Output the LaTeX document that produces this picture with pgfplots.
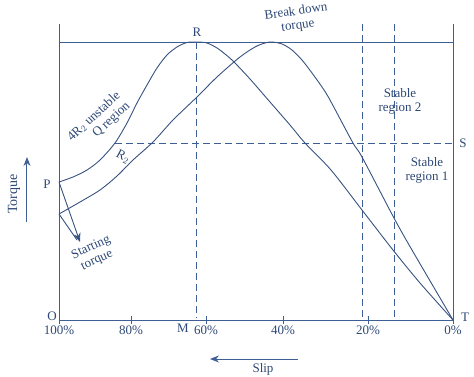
\documentclass[border=0pt]{standalone}
\usepackage{pgfplots}
\pgfplotsset{compat=1.18}
\usepackage{fontspec}
\setmainfont{Liberation Serif}
\usetikzlibrary{arrows.meta}
\definecolor{ln}{RGB}{55,82,128}
\definecolor{ax}{RGB}{62,95,150}
\definecolor{tx}{RGB}{45,72,118}
\begin{document}
\begin{tikzpicture}
\begin{axis}[
  scale only axis, width=394pt, height=296pt,
  xmin=59, xmax=453, ymin=0, ymax=296,
  axis x line*=bottom, axis y line*=left,
  axis line style={ax, line width=0.9pt},
  xtick={59,131,206,283,368,453},
  xticklabels={100\%,80\%,60\%,40\%,20\%,0\%},
  ytick=\empty,
  tick align=center, major tick length=8pt,
  tick style={ax, line width=0.8pt},
  xticklabel style={font=\fontsize{13}{15}\selectfont, text=tx, yshift=2pt},
  clip=false,
]
\path (axis cs:0,-56) rectangle (axis cs:474,320);
% top and right lines
\addplot[ax, line width=0.9pt] coordinates {(59,278) (453,278)};
\addplot[ax, line width=0.9pt] coordinates {(453,0) (453,296)};
% dashed lines
\addplot[ax, line width=0.9pt, dash pattern=on 7pt off 4pt] coordinates {(196,278) (196,2)};
\addplot[ax, line width=0.9pt, dash pattern=on 7pt off 4pt] coordinates {(115,177) (453,177)};
\addplot[ax, line width=0.9pt, dash pattern=on 7pt off 4pt] coordinates {(362,296) (362,0)};
\addplot[ax, line width=0.9pt, dash pattern=on 7pt off 4pt] coordinates {(394,296) (394,0)};
% curve 4R2
\addplot[ln, line width=0.9pt, smooth] coordinates {
(59,138) (73,143) (87,150) (100,160) (115,177) (127,197) (137,217) (147,235)
(157,252) (167,265) (177,273) (187,277.5) (197,278) (207,277) (217,272) (225,266)
(234,258) (250,241) (270,218) (290,195) (305,177) (331,150) (362,110) (393,70)
(420,37) (453,0)};
% curve R2
\addplot[ln, line width=0.9pt, smooth] coordinates {
(59,106) (80,118) (100,130) (117,144) (133,160) (153,178) (173,200) (197,223)
(217,243) (240,263) (255,273) (265,277) (272,278) (282,276) (292,270) (302,260)
(312,247) (322,233) (330,220) (353,177) (362,163) (394,102) (412,70) (453,0)};
% arrows
\draw[ln, line width=0.9pt, -{Stealth[length=9pt,width=7pt]}] (axis cs:59,138) -- (axis cs:80,78);
\draw[ln, line width=0.9pt] (axis cs:59,106) -- (axis cs:77,80);
\draw[ax, line width=1pt, -{Stealth[length=9pt,width=7pt]}] (axis cs:27,98) -- (axis cs:27,163);
\draw[ax, line width=0.8pt, -{Stealth[length=9pt,width=7pt]}] (axis cs:298,-39) -- (axis cs:210,-39);
% labels
\begin{scope}[every node/.style={text=tx, font=\fontsize{13}{14}\selectfont, inner sep=0pt}]
\node at (axis cs:197,288) {R};
\node at (axis cs:52,4) {O};
\node at (axis cs:47,136) {P};
\node at (axis cs:183,-8) {M};
\node at (axis cs:463,177) {S};
\node at (axis cs:465,3) {T};
\node[rotate=8, align=center] at (axis cs:297,301) {Break down\\torque};
\node[align=center] at (axis cs:400,219) {Stable\\region 2};
\node[align=center] at (axis cs:427,150) {Stable\\region 1};
\node[rotate=43, align=right] at (axis cs:99,198) {4R$_2$ unstable\\Q region};
\node[rotate=-28] at (axis cs:123,163) {R$_2$};
\node[rotate=25, align=center] at (axis cs:94,66) {Starting\\torque};
\node[rotate=90, font=\fontsize{14}{15}\selectfont] at (axis cs:14,126) {Torque};
\node at (axis cs:263,-49) {Slip};
\end{scope}
\end{axis}
\end{tikzpicture}
\end{document}
